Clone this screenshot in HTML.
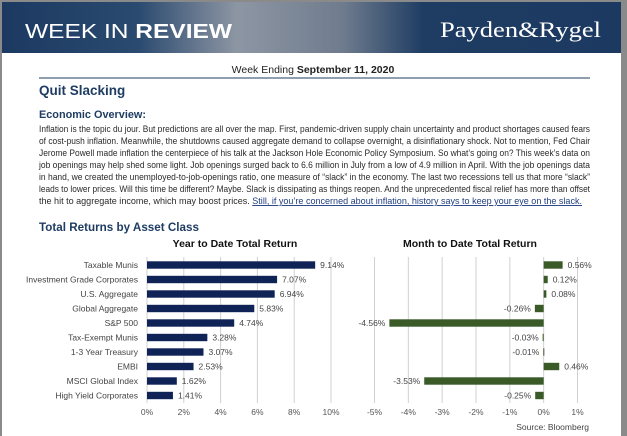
<!DOCTYPE html>
<html><head><meta charset="utf-8"><style>
html,body{margin:0;padding:0;background:#fff}
svg{display:block;font-family:"Liberation Sans",sans-serif}
</style></head><body>
<svg width="627" height="436" viewBox="0 0 627 436">
<defs>
<linearGradient id="hg" x1="0" x2="1" y1="0" y2="0">
<stop offset="0" stop-color="#1c3a61"/><stop offset="0.22" stop-color="#2b4a70"/>
<stop offset="0.38" stop-color="#8d96a3"/><stop offset="0.55" stop-color="#6f7c8e"/>
<stop offset="0.68" stop-color="#1f3d63"/><stop offset="1" stop-color="#1c3a61"/>
</linearGradient>
</defs>
<rect x="0" y="0" width="627" height="436" fill="#8a8a8a"/>
<rect x="2" y="2" width="619" height="434" fill="#fff"/>
<rect x="2" y="2" width="619" height="51" fill="url(#hg)"/>
<text x="25" y="38" font-size="20" fill="#fff" textLength="207" lengthAdjust="spacingAndGlyphs">WEEK IN <tspan font-weight="bold">REVIEW</tspan></text>
<text x="440" y="37" font-size="22" fill="#fff" font-family="Liberation Serif,serif" textLength="161" lengthAdjust="spacingAndGlyphs">Payden&amp;Rygel</text>
<text x="313" y="73" font-size="10.5" fill="#222" text-anchor="middle">Week Ending <tspan font-weight="bold">September 11, 2020</tspan></text>
<line x1="39" y1="78" x2="590" y2="78" stroke="#1f3d63" stroke-width="1"/>
<text x="39" y="95" font-size="13.5" font-weight="bold" fill="#1f3d63">Quit Slacking</text>
<text x="39" y="118" font-size="11" font-weight="bold" fill="#1f3d63" textLength="107" lengthAdjust="spacingAndGlyphs">Economic Overview:</text>
<g font-size="9.3" fill="#2a2a2a">
<text x="39" y="132" textLength="551" lengthAdjust="spacingAndGlyphs">Inflation is the topic du jour. But predictions are all over the map. First, pandemic-driven supply chain uncertainty and product shortages caused fears</text>
<text x="39" y="144" textLength="551" lengthAdjust="spacingAndGlyphs">of cost-push inflation. Meanwhile, the shutdowns caused aggregate demand to collapse overnight, a disinflationary shock. Not to mention, Fed Chair</text>
<text x="39" y="156" textLength="551" lengthAdjust="spacingAndGlyphs">Jerome Powell made inflation the centerpiece of his talk at the Jackson Hole Economic Policy Symposium. So what’s going on? This week’s data on</text>
<text x="39" y="168" textLength="551" lengthAdjust="spacingAndGlyphs">job openings may help shed some light. Job openings surged back to 6.6 million in July from a low of 4.9 million in April. With the job openings data</text>
<text x="39" y="180" textLength="551" lengthAdjust="spacingAndGlyphs">in hand, we created the unemployed-to-job-openings ratio, one measure of “slack” in the economy. The last two recessions tell us that more “slack”</text>
<text x="39" y="192" textLength="551" lengthAdjust="spacingAndGlyphs">leads to lower prices. Will this time be different? Maybe. Slack is dissipating as things reopen. And the unprecedented fiscal relief has more than offset</text>
<text x="39" y="204" textLength="543" lengthAdjust="spacingAndGlyphs">the hit to aggregate income, which may boost prices. <tspan fill="#1f3d80" text-decoration="underline">Still, if you’re concerned about inflation, history says to keep your eye on the slack.</tspan></text>
</g>
<text x="39" y="231" font-size="12" font-weight="bold" fill="#1f3d63" textLength="160" lengthAdjust="spacingAndGlyphs">Total Returns by Asset Class</text>
<text x="235" y="247" font-size="10.5" font-weight="bold" fill="#111" text-anchor="middle">Year to Date Total Return</text>
<text x="470" y="247" font-size="10.5" font-weight="bold" fill="#111" text-anchor="middle">Month to Date Total Return</text>
<g id="ytd"></g>
<g id="mtd"></g>
<text x="589" y="430" font-size="8.5" fill="#444" text-anchor="end">Source: Bloomberg</text>
</svg>
<script>
const categories=["Taxable Munis","Investment Grade Corporates","U.S. Aggregate","Global Aggregate","S&P 500","Tax-Exempt Munis","1-3 Year Treasury","EMBI","MSCI Global Index","High Yield Corporates"];
const ytdValues=[9.14,7.07,6.94,5.83,4.74,3.28,3.07,2.53,1.62,1.41];
const mtdValues=[0.56,0.12,0.08,-0.26,-4.56,-0.03,-0.01,0.46,-3.53,-0.25];
const ytdTicks=[0,2,4,6,8,10];
const mtdTicks=[-5,-4,-3,-2,-1,0,1];
const NS="http://www.w3.org/2000/svg";
const rowY=i=>265+i*14.5;
function mk(tag,attrs,parent,txt){const e=document.createElementNS(NS,tag);for(const k in attrs)e.setAttribute(k,attrs[k]);if(txt!=null)e.textContent=txt;parent.appendChild(e);return e;}
function draw(gid,vals,ticks,x0,x1,color,labels){
  const g=document.getElementById(gid);
  const min=ticks[0],max=ticks[ticks.length-1];
  const sx=v=>x0+(v-min)/(max-min)*(x1-x0);
  ticks.forEach(t=>{
    const l=mk('line',{x1:sx(t),x2:sx(t),y1:257,y2:403,stroke:'#d0d0d0','stroke-width':1},g);
    
    
    const tx=mk('text',{x:sx(t),y:415,'font-size':8.5,fill:'#555','text-anchor':'middle'},g,t+'%');
    
    
  });
  vals.forEach((v,i)=>{
    const y=rowY(i),a=sx(0),b=sx(v);
    const r=mk('rect',{x:Math.min(a,b),y:y-3.7,width:Math.max(Math.abs(b-a),1),height:7.4,fill:color},g);
    
    
    const pos=v>=0;
    const t=mk('text',{x:pos?b+5:b-4,y:y+3,'font-size':8.5,fill:'#444','text-anchor':pos?'start':'end'},g,v.toFixed(2)+'%');
    
    
    if(labels){
      const c=mk('text',{x:138,y:y+3,'font-size':8.5,fill:'#444','text-anchor':'end'},g,categories[i]);
      
      
    }
  });
}
draw('ytd',ytdValues,ytdTicks,147,331,'#0f2357',true);
draw('mtd',mtdValues,mtdTicks,374.5,577.5,'#3a5a28',false);
</script>
</body></html>
